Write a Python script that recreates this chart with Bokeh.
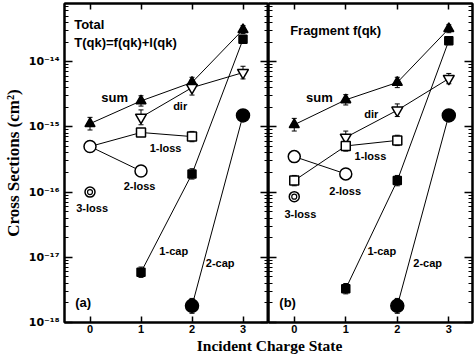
from bokeh.plotting import figure
from bokeh.models import (LogAxis, LinearAxis, FixedTicker, CustomJSTickFormatter,
                          Label, Whisker, TeeHead, ColumnDataSource, Range1d)
from bokeh.layouts import row, column
from bokeh.embed import file_html
from bokeh.resources import INLINE

# ---------------- data ----------------
charge_ticks = [0, 1, 2, 3]
y_tick_exps = [-18, -17, -16, -15, -14]
y_tick_labels = ["10⁻¹⁸", "10⁻¹⁷", "10⁻¹⁶", "10⁻¹⁵", "10⁻¹⁴"]
y_label = "Cross Sections (cm²)"
x_label = "Incident Charge State"

# panel (a): Total  T(qk) = f(qk) + l(qk)
a_sum_x = [0, 1, 2, 3]
a_sum_y = [1.12e-15, 2.5e-15, 4.8e-15, 3.1e-14]
a_sum_err = [0.25, 0.2, 0.2, 0.15]
a_dir_x = [1, 2, 3]
a_dir_y = [1.4e-15, 4.0e-15, 6.8e-15]
a_dir_err = [0.3, 0.3, 0.25]
a_loss2_x = [0, 1]
a_loss2_y = [5.0e-16, 2.1e-16]
a_loss2_err = [0.2, 0.15]
a_loss1_x = [1, 2]
a_loss1_y = [8.2e-16, 7.1e-16]
a_loss1_err = [0.15, 0.2]
a_loss3_x = [0]
a_loss3_y = [1.0e-16]
a_loss3_err = [0.15]
a_cap1_x = [1, 2, 3]
a_cap1_y = [5.9e-18, 1.9e-16, 2.2e-14]
a_cap1_err = [0.2, 0.2, 0.15]
a_cap2_x = [2, 3]
a_cap2_y = [1.8e-18, 1.5e-15]
a_cap2_err = [0.3, 0.1]

# panel (b): Fragment f(qk)
b_sum_x = [0, 1, 2, 3]
b_sum_y = [1.08e-15, 2.6e-15, 4.8e-15, 3.2e-14]
b_sum_err = [0.25, 0.2, 0.2, 0.15]
b_dir_x = [1, 2, 3]
b_dir_y = [6.9e-16, 1.8e-15, 5.5e-15]
b_dir_err = [0.25, 0.25, 0.2]
b_loss1_x = [0, 1, 2]
b_loss1_y = [1.5e-16, 5.1e-16, 6.2e-16]
b_loss1_err = [0.2, 0.2, 0.2]
b_loss2_x = [0, 1]
b_loss2_y = [3.5e-16, 1.9e-16]
b_loss2_err = [0.15, 0.15]
b_loss3_x = [0]
b_loss3_y = [8.5e-17]
b_loss3_err = [0.15]
b_cap1_x = [1, 2, 3]
b_cap1_y = [3.3e-18, 1.5e-16, 2.1e-14]
b_cap1_err = [0.2, 0.2, 0.15]
b_cap2_x = [2, 3]
b_cap2_y = [1.8e-18, 1.5e-15]
b_cap2_err = [0.3, 0.1]

# ---------------- styling ----------------
SANS = "Liberation Sans"
SERIF = "Liberation Serif"
Y_START, Y_END = 1e-18, 7.8e-14


def y_formatter():
    return CustomJSTickFormatter(
        args=dict(exps=y_tick_exps, labels=y_tick_labels),
        code="const e = Math.round(Math.log10(tick)); const i = exps.indexOf(e); return i >= 0 ? labels[i] : '';")


def y_ticker():
    majors = [10.0 ** e for e in y_tick_exps]
    minors = [m * 10.0 ** e for e in y_tick_exps for m in range(2, 10)]
    return FixedTicker(ticks=majors, minor_ticks=minors)


def style_axis(ax, show_labels, tick_in=8, minor_in=4):
    ax.axis_line_width = 2
    ax.axis_line_color = "black"
    ax.major_tick_in = tick_in
    ax.major_tick_out = 0
    ax.minor_tick_in = minor_in
    ax.minor_tick_out = 0
    ax.major_tick_line_width = 1.5
    ax.minor_tick_line_width = 1
    ax.major_label_text_font = SANS
    ax.major_label_text_font_style = "bold"
    ax.major_label_text_font_size = "11px"
    if show_labels:
        ax.major_label_text_color = "black"
        ax.major_label_standoff = 3
    else:
        ax.major_label_text_color = None
        ax.major_label_standoff = 0


def make_panel(width, x_end, border_left, border_right, left_labels):
    p = figure(width=width, height=336, x_range=Range1d(-0.5, x_end),
               y_range=Range1d(Y_START, Y_END), y_axis_type="log",
               toolbar_location=None, output_backend="svg",
               min_border_left=border_left, min_border_right=border_right,
               min_border_top=3, min_border_bottom=14)
    p.grid.visible = False
    p.outline_line_color = "black"
    p.outline_line_width = 2
    p.background_fill_color = "white"

    # bottom x axis
    xa = p.xaxis[0]
    xa.ticker = FixedTicker(ticks=charge_ticks)
    style_axis(xa, True, tick_in=6, minor_in=0)
    xa.major_label_standoff = 2
    # top x axis
    xt = LinearAxis(ticker=FixedTicker(ticks=charge_ticks))
    style_axis(xt, False, tick_in=6, minor_in=0)
    p.add_layout(xt, "above")

    # left y axis
    ya = p.yaxis[0]
    ya.ticker = y_ticker()
    ya.formatter = y_formatter()
    style_axis(ya, left_labels)
    if left_labels:
        ya.major_label_text_font = "DejaVu Sans"
        ya.major_label_text_font_size = "11px"
        ya.axis_label = y_label
        ya.axis_label_text_font = SERIF
        ya.axis_label_text_font_style = "bold"
        ya.axis_label_text_font_size = "17px"
        ya.axis_label_text_color = "black"
        ya.axis_label_standoff = 3
        ya.major_label_standoff = 5
    # right y axis
    yr = LogAxis(ticker=y_ticker(), formatter=y_formatter())
    style_axis(yr, False)
    p.add_layout(yr, "right")
    return p


def draw(p, xs, ys, errs, marker, size, filled, line=True, line_x=None, line_y=None):
    src = ColumnDataSource(dict(x=xs, y=ys,
                                upper=[v * (1 + e) for v, e in zip(ys, errs)],
                                lower=[v / (1 + e) for v, e in zip(ys, errs)]))
    if line:
        p.line(line_x if line_x is not None else xs,
               line_y if line_y is not None else ys,
               line_color="black", line_width=1)
    p.add_layout(Whisker(source=src, base="x", upper="upper", lower="lower",
                         dimension="height", line_color="black", line_width=1,
                         upper_head=TeeHead(size=5, line_width=1),
                         lower_head=TeeHead(size=5, line_width=1)))
    p.scatter("x", "y", source=src, marker=marker, size=size,
              line_color="black", line_width=1.5,
              fill_color="black" if filled else "white")


def bullseye(p, xs, ys, errs):
    draw(p, xs, ys, errs, "circle", 10, False, line=False)
    p.scatter(xs, ys, marker="circle", size=5, line_color="black", line_width=1.2,
              fill_color="white")


def label(p, x, y, text, size="11px", align="left"):
    p.add_layout(Label(x=x, y=y, text=text, text_font=SANS, text_font_style="bold",
                       text_font_size=size, text_color="black",
                       text_align=align, text_baseline="middle"))


# ---------------- panel (a) ----------------
p1 = make_panel(268, 3.5, 62, 0, True)
draw(p1, a_sum_x, a_sum_y, a_sum_err, "triangle", 10, True)
draw(p1, a_dir_x, a_dir_y, a_dir_err, "inverted_triangle", 11, False)
draw(p1, a_loss1_x, a_loss1_y, a_loss1_err, "square", 9, False,
     line_x=a_loss2_x[:1] + a_loss1_x, line_y=a_loss2_y[:1] + a_loss1_y)
draw(p1, a_loss2_x, a_loss2_y, a_loss2_err, "circle", 12, False)
bullseye(p1, a_loss3_x, a_loss3_y, a_loss3_err)
draw(p1, a_cap1_x, a_cap1_y, a_cap1_err, "square", 8, True)
draw(p1, a_cap2_x, a_cap2_y, a_cap2_err, "circle", 13, True)

label(p1, -0.31, 3.7e-14, "Total", "13px")
label(p1, -0.31, 1.95e-14, "T(qk)=f(qk)+l(qk)", "13px")
label(p1, 0.22, 2.8e-15, "sum", "13px")
label(p1, 1.63, 2.1e-15, "dir")
label(p1, 1.17, 4.8e-16, "1-loss")
label(p1, 0.66, 1.26e-16, "2-loss")
label(p1, -0.27, 5.8e-17, "3-loss")
label(p1, 1.36, 1.23e-17, "1-cap")
label(p1, 2.27, 8.3e-18, "2-cap")
label(p1, -0.29, 2.0e-18, "(a)", "13px")

# ---------------- panel (b) ----------------
p2 = make_panel(206, 3.46, 0, 2, False)
draw(p2, b_sum_x, b_sum_y, b_sum_err, "triangle", 10, True)
draw(p2, b_dir_x, b_dir_y, b_dir_err, "inverted_triangle", 11, False)
draw(p2, b_loss1_x, b_loss1_y, b_loss1_err, "square", 9, False)
draw(p2, b_loss2_x, b_loss2_y, b_loss2_err, "circle", 12, False)
bullseye(p2, b_loss3_x, b_loss3_y, b_loss3_err)
draw(p2, b_cap1_x, b_cap1_y, b_cap1_err, "square", 8, True)
draw(p2, b_cap2_x, b_cap2_y, b_cap2_err, "circle", 13, True)

label(p2, -0.08, 3.0e-14, "Fragment  f(qk)", "13px")
label(p2, 0.23, 2.8e-15, "sum", "13px")
label(p2, 1.36, 1.55e-15, "dir")
label(p2, 1.17, 3.6e-16, "1-loss")
label(p2, 0.68, 1.05e-16, "2-loss")
label(p2, -0.19, 4.6e-17, "3-loss")
label(p2, 1.42, 1.23e-17, "1-cap")
label(p2, 2.31, 8.1e-18, "2-cap")
label(p2, -0.29, 2.0e-18, "(b)", "13px")

# ---------------- shared x label ----------------
p3 = figure(width=474, height=18, x_range=Range1d(0, 1), y_range=Range1d(0, 1),
            toolbar_location=None, output_backend="svg", min_border=0,
            x_axis_location=None, y_axis_location=None)
p3.grid.visible = False
p3.outline_line_color = None
p3.add_layout(Label(x=269, y=9, x_units="screen", y_units="screen", text=x_label,
                    text_font=SERIF, text_font_style="bold", text_font_size="15.5px",
                    text_align="center", text_baseline="middle", text_color="black"))

layout = column(row(p1, p2), p3)
open("out.html", "w").write(file_html(layout, INLINE))
